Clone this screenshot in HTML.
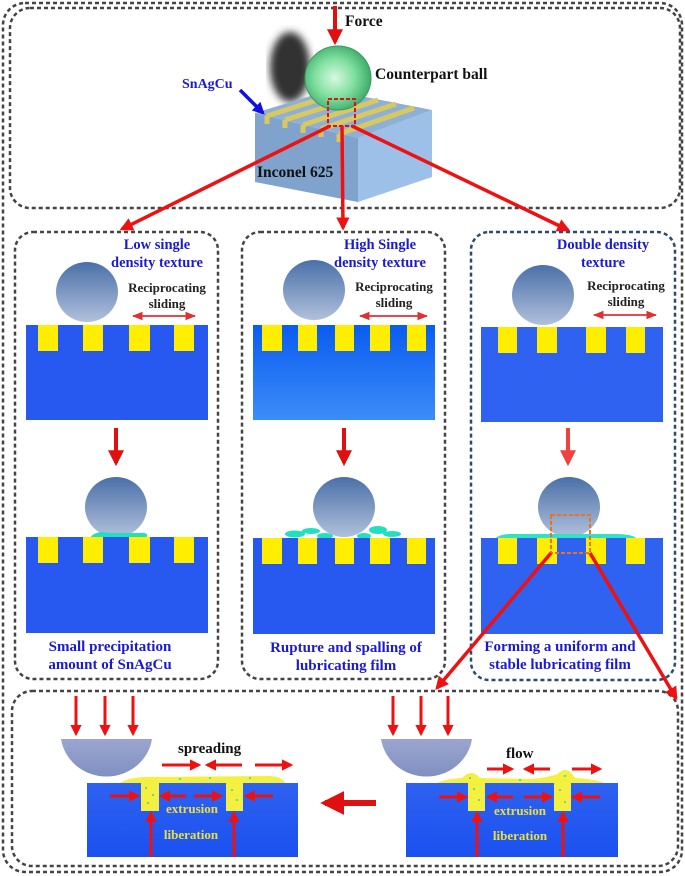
<!DOCTYPE html>
<html><head><meta charset="utf-8"><style>
html,body{margin:0;padding:0;background:#fff;}
svg{display:block;}
text{font-family:"Liberation Serif",serif;font-weight:bold;}
</style></head><body>
<svg width="685" height="876" viewBox="0 0 685 876" xmlns="http://www.w3.org/2000/svg">
<defs>
<radialGradient id="gb" cx="0.45" cy="0.5" r="0.6"><stop offset="0" stop-color="#d8f8e0"/><stop offset="0.5" stop-color="#80e0a0"/><stop offset="1" stop-color="#30a060"/></radialGradient>
<linearGradient id="bl" x1="0" y1="0" x2="0" y2="1"><stop offset="0" stop-color="#4a70a8"/><stop offset="1" stop-color="#b0c0dc"/></linearGradient>
<linearGradient id="bowl" x1="0" y1="0" x2="0" y2="1"><stop offset="0" stop-color="#9aa6d0"/><stop offset="1" stop-color="#8090c0"/></linearGradient>
<linearGradient id="sub2" x1="0" y1="0" x2="0" y2="1"><stop offset="0" stop-color="#0a5cf0"/><stop offset="1" stop-color="#3c8cf8"/></linearGradient>
<linearGradient id="subB" x1="0" y1="0" x2="0" y2="1"><stop offset="0" stop-color="#2f62f0"/><stop offset="1" stop-color="#1a50f0"/></linearGradient>
<filter id="blur"><feGaussianBlur stdDeviation="4"/></filter>
<marker id="ah" viewBox="0 0 10 10" refX="8" refY="5" markerWidth="4" markerHeight="4" orient="auto-start-reverse"><path d="M0,0L10,5L0,10z" fill="#e01010"/></marker>
<marker id="ahs" viewBox="0 0 10 10" refX="9" refY="5" markerWidth="6" markerHeight="6" orient="auto-start-reverse"><path d="M0,1L10,5L0,9z" fill="#e03030"/></marker>
<marker id="ahp" viewBox="0 0 10 10" refX="8" refY="5" markerWidth="4" markerHeight="4" orient="auto"><path d="M0,0L10,5L0,10z" fill="#f04040"/></marker>
<marker id="ahb" viewBox="0 0 10 10" refX="8" refY="5" markerWidth="3.5" markerHeight="3.5" orient="auto"><path d="M0,0L10,5L0,10z" fill="#1010e0"/></marker>
<marker id="ahr" viewBox="0 0 10 10" refX="8" refY="5" markerWidth="3.8" markerHeight="3.8" orient="auto"><path d="M0,0L10,5L0,10z" fill="#ee1111"/></marker>
</defs>

<rect x="3" y="3" width="679" height="869" rx="22" fill="none" stroke="#444" stroke-width="2.5" stroke-dasharray="4,3"/>
<rect x="10" y="8" width="670" height="200" rx="20" fill="none" stroke="#444" stroke-width="2.5" stroke-dasharray="4,3"/>
<rect x="15" y="232" width="203" height="447" rx="18" fill="none" stroke="#444" stroke-width="2.5" stroke-dasharray="4,3"/>
<rect x="242" y="232" width="203" height="447" rx="18" fill="none" stroke="#444" stroke-width="2.5" stroke-dasharray="4,3"/>
<rect x="471" y="232" width="204" height="448" rx="18" fill="none" stroke="#2a4a70" stroke-width="2.5" stroke-dasharray="4,3"/>
<rect x="12" y="691" width="666" height="175" rx="20" fill="none" stroke="#444" stroke-width="2.5" stroke-dasharray="4,3"/>

<ellipse cx="290" cy="67" rx="20" ry="35" fill="#333" filter="url(#blur)"/>
<polygon points="255,113 358,138 358,202 255,182" fill="#7fa3cc"/>
<polygon points="358,138 432,110 432,177 358,202" fill="#9cc0e8"/>
<polygon points="255,113 358,138 432,110 330,90" fill="#8fb0d6"/>
<g stroke="#d8c860" stroke-width="5">
<line x1="267" y1="116" x2="342" y2="92"/>
<line x1="285" y1="120" x2="360" y2="96"/>
<line x1="303" y1="125" x2="378" y2="100"/>
<line x1="321" y1="129" x2="396" y2="104"/>
<line x1="339" y1="134" x2="414" y2="108"/>
</g>
<g stroke="#d8c860" stroke-width="5"><line x1="267" y1="116" x2="267" y2="124"/><line x1="285" y1="120" x2="285" y2="128"/><line x1="303" y1="125" x2="303" y2="133"/><line x1="321" y1="129" x2="321" y2="137"/><line x1="339" y1="134" x2="339" y2="142"/></g>
<ellipse cx="338" cy="78" rx="33" ry="32" fill="url(#gb)" stroke="#3a9a5a" stroke-width="1"/>
<rect x="328" y="99" width="27" height="27" fill="none" stroke="#e01010" stroke-width="2" stroke-dasharray="4,2"/>
<line x1="335" y1="6" x2="335" y2="42" stroke="#e01010" stroke-width="4" marker-end="url(#ah)"/>
<line x1="240" y1="90" x2="263" y2="113" stroke="#1010e0" stroke-width="3.5" marker-end="url(#ahb)"/>
<text x="345" y="26" font-size="15.5" fill="#111">Force</text>
<text x="375" y="79" font-size="15.5" fill="#111">Counterpart ball</text>
<text x="182" y="88" font-size="14" fill="#1a1ad8">SnAgCu</text>
<text x="257" y="177" font-size="15.5" fill="#111">Inconel 625</text>
<g stroke="#ee1111" stroke-width="3.5" fill="none">
<line x1="330" y1="126" x2="122" y2="229" marker-end="url(#ahr)"/>
<line x1="342" y1="126" x2="343" y2="228" marker-end="url(#ahr)"/>
<line x1="352" y1="126" x2="568" y2="230" marker-end="url(#ahr)"/>
</g>

<g font-size="14.5" fill="#1a1ad0" text-anchor="middle">
<text x="157" y="249">Low single</text><text x="157" y="267">density texture</text>
<text x="380" y="249">High Single</text><text x="380" y="267">density texture</text>
<text x="603" y="249">Double density</text><text x="603" y="267">texture</text>
</g>
<g font-size="15" fill="#1a1ad0" text-anchor="middle">
<text x="110" y="651">Small precipitation</text><text x="110" y="669">amount of SnAgCu</text>
<text x="346" y="652">Rupture and spalling of</text><text x="346" y="670">lubricating film</text>
<text x="560" y="651">Forming a uniform and</text><text x="560" y="669">stable lubricating film</text>
</g>
<g font-size="13" fill="#222" text-anchor="middle">
<text x="167" y="292">Reciprocating</text><text x="167" y="308">sliding</text>
<text x="394" y="291">Reciprocating</text><text x="394" y="307">sliding</text>
<text x="626" y="290">Reciprocating</text><text x="626" y="306">sliding</text>
</g>
<g stroke="#e03030" stroke-width="1.8">
<line x1="133" y1="316" x2="195" y2="316" marker-start="url(#ahs)" marker-end="url(#ahs)"/>
<line x1="360" y1="316" x2="427" y2="316" marker-start="url(#ahs)" marker-end="url(#ahs)"/>
<line x1="594" y1="315" x2="656" y2="315" marker-start="url(#ahs)" marker-end="url(#ahs)"/>
</g>

<ellipse cx="87" cy="292" rx="31" ry="30" fill="url(#bl)"/>
<rect x="26" y="325" width="182" height="95" fill="#2758f0"/>
<g fill="#ffee00"><rect x="38" y="325" width="20" height="26"/><rect x="83" y="325" width="20" height="26"/><rect x="129" y="325" width="21" height="26"/><rect x="174" y="325" width="20" height="26"/></g>
<line x1="116" y1="428" x2="116" y2="463" stroke="#e01010" stroke-width="4" marker-end="url(#ah)"/>
<ellipse cx="116" cy="507" rx="31" ry="30" fill="url(#bl)"/>
<path d="M90,538 Q95,530 110,533 L140,533 Q150,532 146,538z" fill="#20e0c0"/>
<rect x="26" y="537" width="182" height="96" fill="#2758f0"/>
<g fill="#ffee00"><rect x="38" y="537" width="20" height="26"/><rect x="83" y="537" width="20" height="26"/><rect x="129" y="537" width="21" height="26"/><rect x="174" y="537" width="20" height="26"/></g>

<ellipse cx="314" cy="290" rx="31" ry="30" fill="url(#bl)"/>
<rect x="253" y="325" width="182" height="95" fill="url(#sub2)"/>
<g fill="#ffee00"><rect x="262" y="325" width="20" height="26"/><rect x="298" y="325" width="19" height="26"/><rect x="335" y="325" width="19" height="26"/><rect x="370" y="325" width="20" height="26"/><rect x="407" y="325" width="19" height="26"/></g>
<line x1="344" y1="428" x2="344" y2="463" stroke="#e01010" stroke-width="4" marker-end="url(#ah)"/>
<ellipse cx="344" cy="507" rx="31" ry="30" fill="url(#bl)"/>
<g fill="#20e0c0"><ellipse cx="295" cy="534" rx="10" ry="3.5"/><ellipse cx="311" cy="531" rx="9" ry="3"/><ellipse cx="325" cy="536" rx="8" ry="3"/><ellipse cx="378" cy="530" rx="9" ry="4"/><ellipse cx="392" cy="534" rx="9" ry="3"/><ellipse cx="364" cy="536" rx="7" ry="3"/></g>
<rect x="253" y="538" width="182" height="96" fill="#2758f0"/>
<g fill="#ffee00"><rect x="262" y="538" width="20" height="26"/><rect x="298" y="538" width="19" height="26"/><rect x="335" y="538" width="19" height="26"/><rect x="370" y="538" width="20" height="26"/><rect x="407" y="538" width="19" height="26"/></g>

<ellipse cx="543" cy="295" rx="31" ry="30" fill="url(#bl)"/>
<rect x="481" y="327" width="182" height="95" fill="#2f62f0"/>
<g fill="#ffee00"><rect x="498" y="327" width="19" height="26"/><rect x="537" y="327" width="20" height="26"/><rect x="586" y="327" width="20" height="26"/><rect x="626" y="327" width="19" height="26"/></g>
<line x1="568" y1="428" x2="568" y2="463" stroke="#f04040" stroke-width="4" marker-end="url(#ahp)"/>
<ellipse cx="569" cy="507" rx="31" ry="30" fill="url(#bl)"/>
<path d="M496,538 Q500,533 520,534 L615,534 Q632,534 636,538z" fill="#30e0c8"/>
<rect x="481" y="538" width="182" height="96" fill="#2f62f0"/>
<g fill="#ffee00"><rect x="498" y="538" width="19" height="26"/><rect x="537" y="538" width="20" height="26"/><rect x="586" y="538" width="20" height="26"/><rect x="626" y="538" width="19" height="26"/></g>
<rect x="551" y="515" width="39" height="38" fill="none" stroke="#f07020" stroke-width="2" stroke-dasharray="4,2"/>
<g stroke="#ee1111" stroke-width="3.5">
<line x1="551" y1="553" x2="437" y2="688" marker-end="url(#ahr)"/>
<line x1="590" y1="553" x2="676" y2="698" marker-end="url(#ahr)"/>
</g>

<g stroke="#ee1111" stroke-width="3">
<line x1="76" y1="696" x2="76" y2="734" marker-end="url(#ahr)"/>
<line x1="105" y1="696" x2="105" y2="734" marker-end="url(#ahr)"/>
<line x1="133" y1="696" x2="133" y2="734" marker-end="url(#ahr)"/>
<line x1="393" y1="696" x2="393" y2="734" marker-end="url(#ahr)"/>
<line x1="421" y1="696" x2="421" y2="734" marker-end="url(#ahr)"/>
<line x1="448" y1="696" x2="448" y2="734" marker-end="url(#ahr)"/>
</g>
<path d="M61,739 L152,739 A46,44 0 0 1 61,739z" fill="url(#bowl)"/>
<path d="M381,739 L472,739 A46,44 0 0 1 381,739z" fill="url(#bowl)"/>
<text x="178" y="753" font-size="15" fill="#111" font-family="Liberation Sans,sans-serif">spreading</text>
<text x="506" y="758" font-size="15" fill="#111" font-family="Liberation Sans,sans-serif">flow</text>
<rect x="87" y="783" width="211" height="74" fill="url(#subB)"/>
<rect x="406" y="783" width="212" height="74" fill="url(#subB)"/>
<path d="M120,783 Q128,777 150,777 L270,776 Q283,777 285,783z" fill="#f4f040"/>
<rect x="141" y="781" width="18" height="30" fill="#f4f040"/>
<rect x="226" y="781" width="17" height="30" fill="#f4f040"/>
<path d="M436,783 Q450,778 462,778 Q472,768 480,778 L530,779 Q555,777 560,772 Q568,766 575,778 Q595,779 605,783z" fill="#f4f040"/>
<rect x="468" y="781" width="17" height="30" fill="#f4f040"/>
<rect x="554" y="781" width="17" height="30" fill="#f4f040"/>
<g fill="#40c8b0">
<circle cx="146" cy="788" r="1"/><circle cx="153" cy="795" r="1"/><circle cx="148" cy="803" r="1"/><circle cx="232" cy="790" r="1"/><circle cx="237" cy="800" r="1"/><circle cx="180" cy="779" r="1"/><circle cx="210" cy="778" r="1"/><circle cx="250" cy="778" r="1"/>
<circle cx="474" cy="789" r="1"/><circle cx="479" cy="800" r="1"/><circle cx="560" cy="790" r="1"/><circle cx="565" cy="802" r="1"/><circle cx="470" cy="778" r="1"/><circle cx="565" cy="776" r="1"/><circle cx="520" cy="780" r="1"/>
</g>
<g stroke="#ee1111" stroke-width="3">
<line x1="162" y1="765" x2="199" y2="765" marker-end="url(#ahr)"/>
<line x1="242" y1="765" x2="207" y2="765" marker-end="url(#ahr)"/>
<line x1="255" y1="765" x2="291" y2="765" marker-end="url(#ahr)"/>
<line x1="110" y1="796" x2="138" y2="796" marker-end="url(#ahr)"/>
<line x1="186" y1="796" x2="161" y2="796" marker-end="url(#ahr)"/>
<line x1="194" y1="796" x2="221" y2="796" marker-end="url(#ahr)"/>
<line x1="273" y1="796" x2="246" y2="796" marker-end="url(#ahr)"/>
<line x1="487" y1="769" x2="512" y2="769" marker-end="url(#ahr)"/>
<line x1="550" y1="769" x2="525" y2="769" marker-end="url(#ahr)"/>
<line x1="572" y1="769" x2="600" y2="769" marker-end="url(#ahr)"/>
<line x1="439" y1="797" x2="466" y2="797" marker-end="url(#ahr)"/>
<line x1="513" y1="797" x2="488" y2="797" marker-end="url(#ahr)"/>
<line x1="524" y1="797" x2="551" y2="797" marker-end="url(#ahr)"/>
<line x1="600" y1="797" x2="573" y2="797" marker-end="url(#ahr)"/>
<line x1="151" y1="857" x2="151" y2="813" marker-end="url(#ahr)"/>
<line x1="234" y1="857" x2="234" y2="813" marker-end="url(#ahr)"/>
<line x1="477" y1="857" x2="477" y2="813" marker-end="url(#ahr)"/>
<line x1="563" y1="857" x2="563" y2="813" marker-end="url(#ahr)"/>
</g>
<line x1="376" y1="803" x2="325" y2="803" stroke="#e01010" stroke-width="6" marker-end="url(#ah)"/>
<g font-size="13" fill="#e8e040" text-anchor="middle">
<text x="192" y="813">extrusion</text><text x="191" y="839">liberation</text>
<text x="520" y="815">extrusion</text><text x="520" y="840">liberation</text>
</g>
</svg>
</body></html>
